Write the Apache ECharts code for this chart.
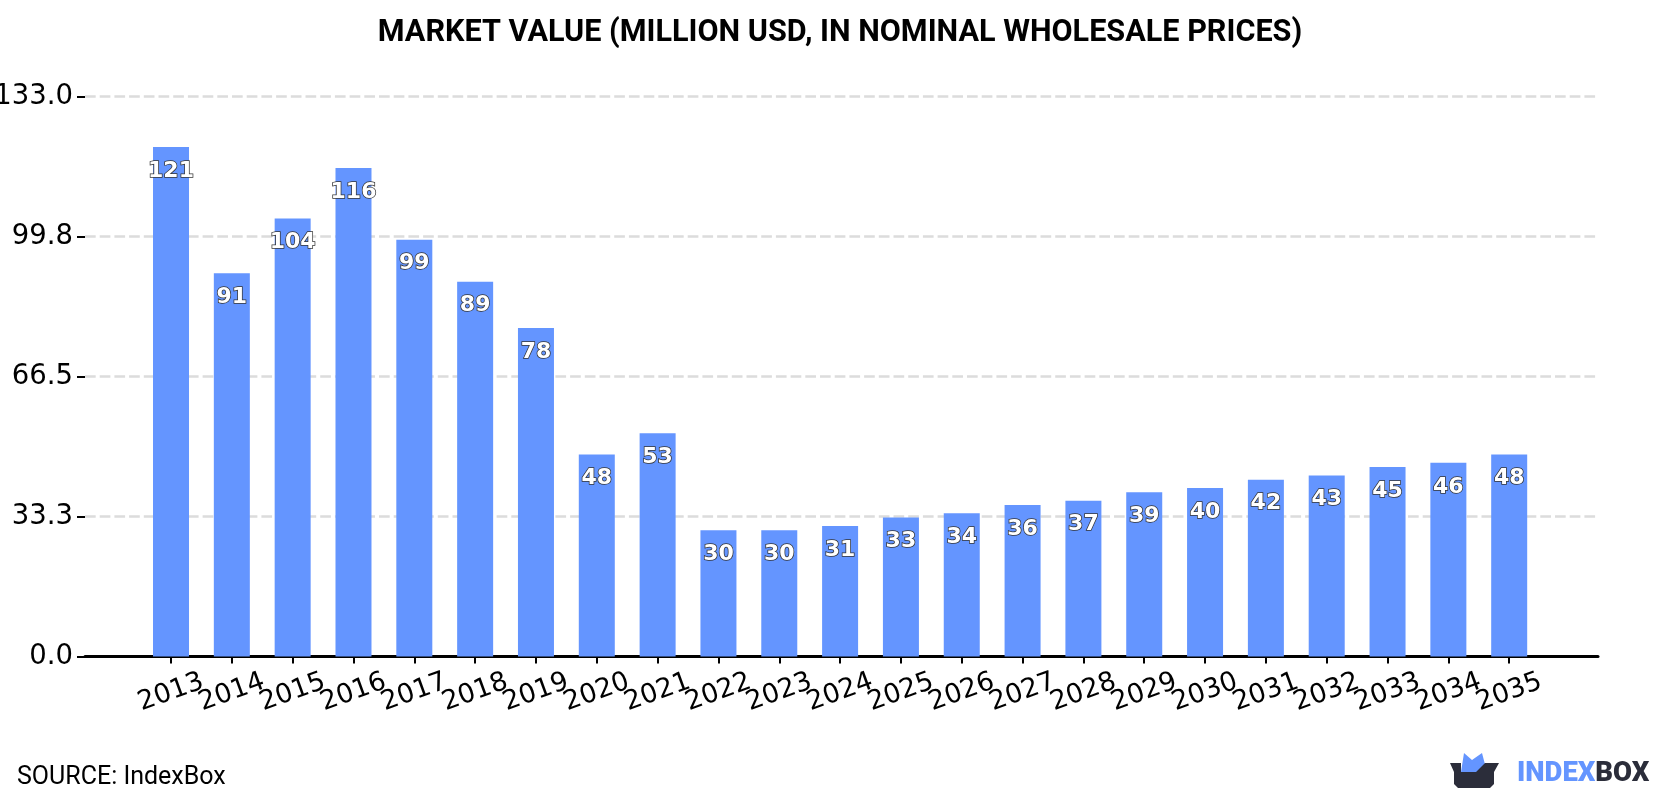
<!DOCTYPE html>
<html>
<head>
<meta charset="utf-8">
<style>html,body{margin:0;padding:0;background:#fff}#chart{width:1680px;height:800px}</style>
<script src="https://cdn.jsdelivr.net/npm/echarts@6/dist/echarts.min.js"></script>
</head>
<body>
<div id="chart"></div>
<script>
// Market value by year, million USD
const years = [2013,2014,2015,2016,2017,2018,2019,2020,2021,2022,2023,2024,2025,2026,2027,2028,2029,2030,2031,2032,2033,2034,2035];
const marketValue = [121,91,104,116,99,89,78,48,53,30,30,31,33,34,36,37,39,40,42,43,45,46,48];
const yTicks = [0,33.25,66.5,99.75,133];

// Year labels run into each other when rotated, so they sit on two coincident axes
// to keep the overlap handling from dropping any of them.
const yearsA = years.filter(y => y % 2 === 1);
const yearsB = years.filter(y => y % 2 === 0);
const xMin = 2011.586, xMax = 2036.46;

const yearLabel = values => ({
  customValues: values, rotate: 20, align: 'center', verticalAlign: 'middle', margin: 36,
  fontFamily: 'DejaVu Sans', fontSize: 26.67, color: '#000',
  formatter: v => String(v)
});

const chart = echarts.init(document.getElementById('chart'), null, {renderer:'canvas'});
chart.setOption({
  backgroundColor:'#ffffff',
  animation:false,
  title:{
    text:'MARKET VALUE (MILLION USD, IN NOMINAL WHOLESALE PRICES)',
    left:'center', top:13,
    textStyle:{fontFamily:'Roboto',fontWeight:'bold',fontSize:30.6,color:'#000'}
  },
  grid:{left:85,right:82,top:96.5,bottom:143.5,containLabel:false,outerBoundsMode:'none'},
  xAxis:[{
    type:'value',position:'bottom',min:xMin,max:xMax,
    splitLine:{show:false},
    axisLine:{show:true,lineStyle:{color:'#000',width:3}},
    axisTick:{show:true,customValues:years,length:7,lineStyle:{color:'#000',width:2}},
    axisLabel:yearLabel(yearsA)
  },{
    type:'value',position:'bottom',min:xMin,max:xMax,
    splitLine:{show:false},
    axisLine:{show:false},
    axisTick:{show:false},
    axisLabel:yearLabel(yearsB)
  }],
  yAxis:{
    type:'value',min:0,max:133,
    axisLine:{show:false},
    axisTick:{show:true,customValues:yTicks,length:8,lineStyle:{color:'#000',width:2}},
    axisLabel:{customValues:yTicks,margin:12,padding:[4,0,0,0],fontFamily:'DejaVu Sans',fontSize:27.5,color:'#000',formatter:v=>v.toFixed(1)},
    splitLine:{show:true,lineStyle:{color:'#dcdcdc',width:2.7,type:[10.7,4]}}
  },
  series:[{
    type:'bar',
    barWidth:36,
    data:years.map((y,i)=>[y,marketValue[i]]),
    itemStyle:{color:'#6495ff'},
    label:{
      show:true,position:'insideTop',distance:13,
      fontFamily:'DejaVu Sans',fontWeight:'bold',fontSize:22,color:'#fff',
      textBorderColor:'#333',textBorderWidth:1.5,
      formatter:p=>String(p.value[1])
    }
  }],
  graphic:[
    {type:'text',left:17,top:765,style:{text:'SOURCE: IndexBox',fontFamily:'Roboto',fontSize:25,fill:'#000'}},
    // IndexBox mark: box with blue ears
    {type:'polygon',z:10,shape:{points:[[1461,772],[1464,753],[1472,760],[1482,753],[1487,772]]},style:{fill:'#6495ff'}},
    {type:'polygon',z:11,shape:{points:[[1450,763],[1461,763],[1461,772],[1476,772],[1485,763],[1499,763],[1494,772],[1494,784],[1490,788],[1458,788],[1454,784],[1454,772]]},style:{fill:'#2b2d3a'}},
    {type:'text',left:1517,top:760,style:{
      text:'{a|INDEX}{b|BOX}',
      rich:{a:{fontFamily:'Roboto',fontWeight:900,fontSize:27.5,fill:'#6495ff',color:'#6495ff'},b:{fontFamily:'Roboto',fontWeight:900,fontSize:27.5,fill:'#2b2d3a',color:'#2b2d3a'}}
    }}
  ]
});
</script>
</body>
</html>
